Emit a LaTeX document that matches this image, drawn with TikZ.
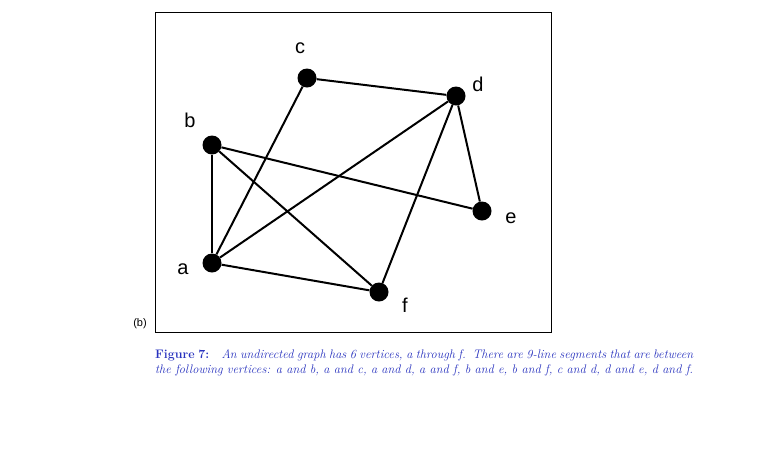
\documentclass[tikz,border=0pt]{standalone}
\usepackage{fontspec}
\usepackage{tikz}
\newfontfamily\labelfont{Liberation Sans}
\definecolor{capblue}{RGB}{40,50,190}
\tikzset{
  vert/.style={circle,fill=black,inner sep=0pt,minimum size=19pt},
  vlabel/.style={font=\labelfont\fontsize{20}{20}\selectfont},
  edge/.style={line width=2pt}
}
\begin{document}
\begin{tikzpicture}[x=1pt,y=-1pt]
\useasboundingbox (0,0) rectangle (773,451);
\draw[line width=0.8pt] (155,12) rectangle (551,332);
%vertices
\node[vert] (c) at (307,78) {};
\node[vert] (d) at (456,96) {};
\node[vert] (b) at (212,145) {};
\node[vert] (e) at (482,211) {};
\node[vert] (a) at (212,263) {};
\node[vert] (f) at (379,292) {};
\node[vlabel] (lc) at (300,48) {c};
\node[vlabel] (ld) at (478,84) {d};
\node[vlabel] (lb) at (190,120) {b};
\node[vlabel] (le) at (511,218) {e};
\node[vlabel] (la) at (183,269) {a};
\node[vlabel] (lf) at (405,305) {f};
%edges
\draw[edge] (a) -- (b);
\draw[edge] (a) -- (c);
\draw[edge] (a) -- (d);
\draw[edge] (a) -- (f);
\draw[edge] (b) -- (e);
\draw[edge] (b) -- (f);
\draw[edge] (c) -- (d);
\draw[edge] (d) -- (e);
\draw[edge] (d) -- (f);
\node[font=\labelfont\fontsize{11}{11}\selectfont] (tag) at (140,324) {(b)};
\node[anchor=north west,text width=538pt,inner sep=0pt,text=capblue,
  font=\fontsize{12.4}{15.5}\selectfont,align=justify] (cap) at (155,349)
  {\textbf{Figure 7:}\quad\textit{An undirected graph has 6 vertices, a through f.\ \ There are 9-line segments that are between the following vertices: a and b, a and c, a and d, a and f, b and e, b and f, c and d, d and e, d and f.}};
\end{tikzpicture}
\end{document}
